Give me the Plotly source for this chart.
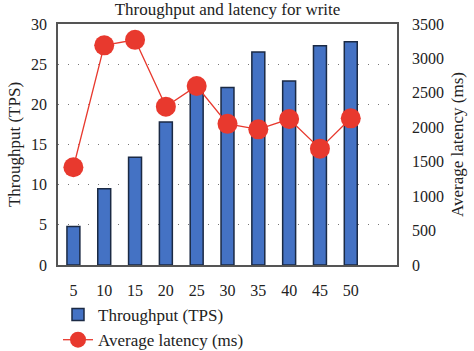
import plotly.graph_objects as go

categories = ["5", "10", "15", "20", "25", "30", "35", "40", "45", "50"]
throughput = [4.8, 9.5, 13.4, 17.8, 21.9, 22.1, 26.5, 22.9, 27.3, 27.8]
latency = [1420, 3190, 3270, 2300, 2600, 2050, 1970, 2120, 1690, 2130]

FONT = "Liberation Serif, DejaVu Serif, serif"

fig = go.Figure()
fig.add_trace(go.Bar(
    x=categories, y=throughput, name="Throughput (TPS)",
    marker=dict(color="#4472c4", line=dict(color="#1b2a44", width=1.5)),
    width=0.42,
))
fig.add_trace(go.Scatter(
    x=categories, y=latency, name="Average latency (ms)", yaxis="y2",
    mode="lines+markers",
    line=dict(color="#e8392e", width=1.3),
    marker=dict(color="#e8392e", size=20),
))

fig.update_layout(
    width=474, height=351,
    margin=dict(l=58, r=77, t=24, b=86, autoexpand=False),
    plot_bgcolor="white", paper_bgcolor="white",
    font=dict(family=FONT, size=16, color="#222"),
    title=dict(text="Throughput and latency for write", x=0.5, xref="paper",
               y=0.99, yanchor="top", font=dict(family=FONT, size=17, color="#222")),
    showlegend=True,
    legend=dict(x=0.0, xanchor="left", y=-0.133, yanchor="top",
                font=dict(family=FONT, size=17), tracegroupgap=0,
                bgcolor="rgba(0,0,0,0)", itemwidth=30),
    xaxis=dict(type="category", range=[-0.5, 10.5], showline=True, linecolor="#555",
               linewidth=1.5, mirror=True, ticks="outside", ticklen=10, tickcolor="rgba(0,0,0,0)",
               showgrid=False, tickfont=dict(family=FONT, size=16)),
    yaxis=dict(range=[0, 30], dtick=5, showline=True, linecolor="#555", linewidth=1.5,
               showgrid=True, gridcolor="#777", griddash="1px,9px", gridwidth=1,
               zeroline=False, ticks="outside", ticklen=6, tickcolor="rgba(0,0,0,0)",
               title=dict(text="Throughput (TPS)", font=dict(family=FONT, size=17), standoff=6),
               tickfont=dict(family=FONT, size=16)),
    yaxis2=dict(range=[0, 3500], dtick=500, overlaying="y", side="right",
                showline=True, linecolor="#555", linewidth=1.5, showgrid=False,
                zeroline=False, ticks="outside", ticklen=10, tickcolor="rgba(0,0,0,0)",
                title=dict(text="Average latency (ms)", font=dict(family=FONT, size=17), standoff=8),
                tickfont=dict(family=FONT, size=16)),
)

fig.write_html("out.html")
